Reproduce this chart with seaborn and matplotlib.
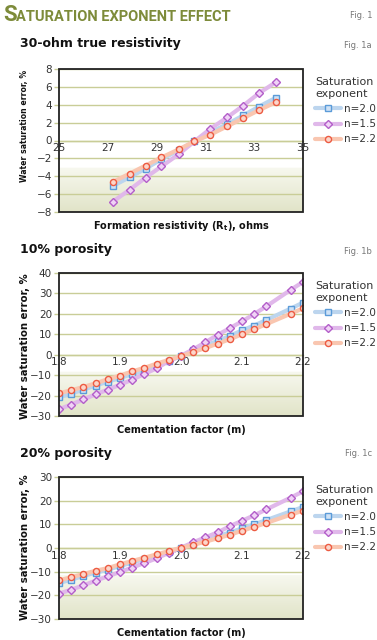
import numpy as np
import pandas as pd
import matplotlib
matplotlib.use("Agg")
import matplotlib.pyplot as plt
import seaborn as sns
from matplotlib.lines import Line2D
from matplotlib.patches import Rectangle
from matplotlib.colors import to_rgb

# ---- data ----
# Fig 1a: 30-ohm true resistivity
rt_ohms = [27.2, 27.9, 28.55, 29.2, 29.9, 30.55, 31.2, 31.9, 32.55, 33.2, 33.9]
err_1a_n20 = [-5.1, -4.1, -3.15, -2.1, -1.1, -0.1, 0.9, 1.85, 2.8, 3.8, 4.8]
err_1a_n15 = [-6.85, -5.5, -4.15, -2.9, -1.55, -0.1, 1.3, 2.6, 3.9, 5.3, 6.55]
err_1a_n22 = [-4.65, -3.7, -2.8, -1.9, -1.0, -0.1, 0.65, 1.6, 2.5, 3.4, 4.3]

# Fig 1b / 1c: cementation factor
cem_m = [1.80, 1.82, 1.84, 1.86, 1.88, 1.90, 1.92, 1.94, 1.96, 1.98,
         2.00, 2.02, 2.04, 2.06, 2.08, 2.10, 2.12, 2.14, 2.18, 2.20]
err_1b_n20 = [-20.9, -19.0, -17.1, -15.1, -13.2, -11.4, -9.5, -7.7, -5.4, -3.0,
              -0.7, 2.1, 4.6, 6.7, 9.2, 11.9, 14.3, 17.0, 22.6, 25.5]
err_1b_n15 = [-26.7, -24.4, -21.9, -19.4, -17.1, -14.7, -12.2, -9.4, -6.7, -3.1,
              -0.5, 2.6, 6.1, 9.7, 13.0, 16.3, 19.9, 23.7, 31.8, 35.6]
err_1b_n22 = [-18.9, -17.4, -15.8, -14.0, -12.0, -10.2, -8.2, -6.4, -4.4, -2.5,
              -0.7, 1.3, 3.3, 5.4, 7.6, 10.0, 12.5, 15.0, 20.1, 22.7]
err_1c_n20 = [-14.8, -13.4, -11.8, -10.4, -9.2, -7.6, -6.2, -4.6, -3.2, -1.7,
              0.1, 1.8, 3.4, 5.1, 6.5, 8.3, 10.0, 11.8, 15.5, 17.3]
err_1c_n15 = [-19.3, -17.6, -15.8, -13.8, -12.0, -10.1, -8.3, -6.3, -4.4, -2.0,
              0.1, 2.4, 4.5, 6.6, 9.2, 11.5, 13.8, 16.3, 21.3, 23.9]
err_1c_n22 = [-13.7, -12.3, -11.0, -9.6, -8.5, -6.9, -5.5, -4.1, -2.7, -1.3,
              0.1, 1.3, 2.7, 4.1, 5.6, 7.3, 8.9, 10.6, 14.1, 15.8]

series_labels = ["n=2.0", "n=1.5", "n=2.2"]
y_ticks_1a = [-8, -6, -4, -2, 0, 2, 4, 6, 8]
x_ticks_1a = [25, 27, 29, 31, 33, 35]
y_ticks_1b = [-30, -20, -10, 0, 10, 20, 30, 40]
y_ticks_1c = [-30, -20, -10, 0, 10, 20, 30]
x_ticks_m = [1.8, 1.9, 2.0, 2.1, 2.2]

# ---- styling ----
line_cols = {"n=2.0": "#bcd5ee", "n=1.5": "#e0b8ea", "n=2.2": "#f9c6b0"}
edge_cols = {"n=2.0": "#5b9bd8", "n=1.5": "#b35ec9", "n=2.2": "#ec5b42"}
face_cols = {"n=2.0": "#cfe2f6", "n=1.5": "#f0d3f6", "n=2.2": "#fcd6ca"}
markers = {"n=2.0": "s", "n=1.5": "D", "n=2.2": "o"}
msizes = {"n=2.0": 4.2, "n=1.5": 3.8, "n=2.2": 4.4}
grid_col = "#c9cd97"
olive = "#7d8b3a"

sns.set_theme(style="white")
plt.rcParams["font.family"] = ["DejaVu Sans"]

W, H = 377, 640
fig = plt.figure(figsize=(W / 100, H / 100), dpi=100)


def px_rect(left, top, right, bottom):
    return [left / W, 1 - bottom / H, (right - left) / W, (bottom - top) / H]


def gradient_bg(ax):
    n = 200
    f = np.linspace(1, 0, n)  # top -> bottom
    top_c = np.array(to_rgb("#ffffff"))
    mid_c = np.array(to_rgb("#f7f8ef"))
    bot_c = np.array(to_rgb("#e1e4c8"))
    img = np.zeros((n, 2, 3))
    for i, v in enumerate(f):
        if v > 0.31:
            c = top_c
        else:
            t = 1 - v / 0.31
            c = mid_c * (1 - t) + bot_c * t
        img[i, :, :] = c
    ax.imshow(img, extent=[0, 1, 0, 1], transform=ax.transAxes,
              aspect="auto", zorder=0, interpolation="bilinear")


def draw_panel(rect, x, ys, xlim, ylim, xticks, yticks, xfmt):
    ax = fig.add_axes(rect)
    gradient_bg(ax)
    df = pd.DataFrame({"x": x})
    for lab, y in zip(series_labels, ys):
        df[lab] = y
    long = df.melt(id_vars="x", var_name="series", value_name="err")
    for lab in series_labels:
        sub = long[long["series"] == lab]
        sns.lineplot(data=sub, x="x", y="err", ax=ax, color=line_cols[lab],
                     lw=3.0, marker=markers[lab], markersize=msizes[lab],
                     markerfacecolor=face_cols[lab],
                     markeredgecolor=edge_cols[lab], markeredgewidth=1.0,
                     zorder=3, solid_capstyle="round")
    ax.set_xlim(*xlim)
    ax.set_ylim(*ylim)
    ax.set_xticks(xticks)
    ax.set_yticks(yticks)
    ax.set_xticklabels([xfmt(v) for v in xticks])
    ax.set_yticklabels([f"{v:g}".replace("-", "\u2212") for v in yticks])
    ax.set_axisbelow(True)
    ax.yaxis.grid(True, color=grid_col, lw=1.0)
    ax.xaxis.grid(False)
    for s in ["top", "left", "right"]:
        ax.spines[s].set_visible(False)
    ax.spines["bottom"].set_position(("data", 0))
    ax.spines["bottom"].set_color(grid_col)
    ax.spines["bottom"].set_linewidth(1.0)
    ax.add_patch(Rectangle((0, 0), 1, 1, transform=ax.transAxes, fill=False,
                           ec="#222222", lw=1.3, clip_on=False, zorder=5))
    ax.tick_params(axis="x", length=0, pad=2, labelsize=7.5,
                   labelcolor="#333333")
    ax.tick_params(axis="y", length=3.5, width=1, color=grid_col, pad=1.5,
                   labelsize=7.5, labelcolor="#333333", left=True)
    ax.set_xlabel("")
    ax.set_ylabel("")
    handles = [Line2D([], [], color=line_cols[l], lw=3.0, marker=markers[l],
                      markersize=msizes[l], markerfacecolor=face_cols[l],
                      markeredgecolor=edge_cols[l], markeredgewidth=1.0)
               for l in series_labels]
    leg = ax.legend(handles, series_labels, title="Saturation\nexponent",
                    loc="upper left", bbox_to_anchor=(1.05, 0.945),
                    frameon=False, fontsize=7.5, title_fontsize=8,
                    handlelength=2.5, handletextpad=0.3, labelspacing=0.5,
                    borderpad=0, borderaxespad=0, alignment="left")
    leg.get_title().set_color("#333333")
    leg.get_title().set_linespacing(1.25)
    for t in leg.get_texts():
        t.set_color("#333333")
    return ax


ax1 = draw_panel(px_rect(59, 69, 303, 212), rt_ohms,
                 [err_1a_n20, err_1a_n15, err_1a_n22],
                 (25, 35), (-8, 8), x_ticks_1a, y_ticks_1a, lambda v: f"{v:g}")
ax2 = draw_panel(px_rect(59, 273, 303, 416), cem_m,
                 [err_1b_n20, err_1b_n15, err_1b_n22],
                 (1.8, 2.2), (-30, 40), x_ticks_m, y_ticks_1b, lambda v: f"{v:.1f}")
ax3 = draw_panel(px_rect(59, 477, 303, 619), cem_m,
                 [err_1c_n20, err_1c_n15, err_1c_n22],
                 (1.8, 2.2), (-30, 30), x_ticks_m, y_ticks_1c, lambda v: f"{v:.1f}")


def ft(x, y, s, **kw):
    fig.text(x / W, 1 - y / H, s, **kw)


# header (small-caps look)
title_fam = ["Roboto", "DejaVu Sans"]
ft(3, 21, "S", fontsize=16, color=olive, family=title_fam, va="baseline",
   ha="left", fontweight="bold")
ft(16, 21, "ATURATION EXPONENT EFFECT", fontsize=10.5, color=olive,
   family=title_fam, va="baseline", ha="left", fontweight="bold")
ft(372, 15, "Fig. 1", fontsize=6, color="#777777", ha="right", va="center")

# subtitles
for y, s, fg in [(44, "30-ohm true resistivity", "Fig. 1a"),
                 (250, "10% porosity", "Fig. 1b"),
                 (453, "20% porosity", "Fig. 1c")]:
    ft(20, y, s, fontsize=9, fontweight="bold", color="#111111",
       ha="left", va="center")
    ft(372, y + 1, fg, fontsize=6, color="#777777", ha="right", va="center")

# axis labels
ft(181, 226, "Formation resistivity (R$_\\mathregular{t}$), ohms", fontsize=7,
   fontweight="bold", color="#111111", ha="center", va="center")
ft(181, 430, "Cementation factor (m)", fontsize=7, fontweight="bold",
   color="#111111", ha="center", va="center")
ft(181, 633, "Cementation factor (m)", fontsize=7, fontweight="bold",
   color="#111111", ha="center", va="center")
ft(25, 70, "Water saturation error, %", fontsize=5.6, fontweight="bold",
   color="#111111", rotation=90, ha="center", va="top")
ft(25, 346, "Water saturation error, %", fontsize=7.3, fontweight="bold",
   color="#111111", rotation=90, ha="center", va="center")
ft(25, 547, "Water saturation error, %", fontsize=7.3, fontweight="bold",
   color="#111111", rotation=90, ha="center", va="center")

fig.savefig("out.png", dpi=100)
